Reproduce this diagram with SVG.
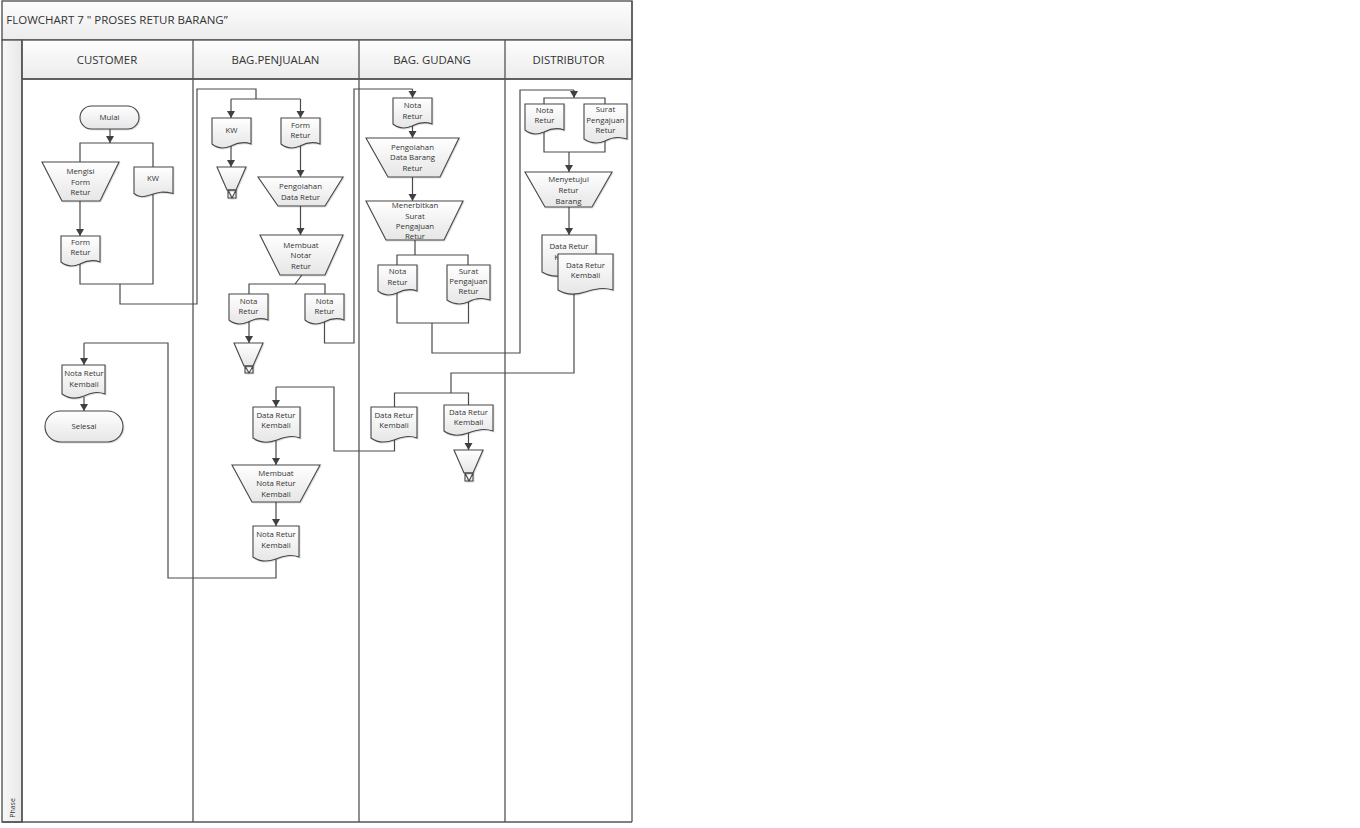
<svg xmlns="http://www.w3.org/2000/svg" width="1360" height="828" viewBox="0 0 1360 828">
<style>
text{font-family:"Open Sans","Noto Sans","DejaVu Sans",sans-serif;fill:#333;text-anchor:middle;dominant-baseline:central}
.t{font-size:7.8px}
.h{font-size:11.4px}
.s{fill:url(#g);stroke:#484848;stroke-width:1.1;filter:url(#sh)}
.b{fill:url(#hd);stroke:#555;stroke-width:1.4}
.l{fill:none;stroke:#555;stroke-width:1.3}
.c{fill:none;stroke:#4a4a4a;stroke-width:1.2}
.a{marker-end:url(#ar)}
</style>
<defs>
<linearGradient id="g" x1="0" y1="0" x2="0" y2="1"><stop offset="0" stop-color="#fff"/><stop offset="1" stop-color="#e6e6e6"/></linearGradient>
<linearGradient id="hd" x1="0" y1="0" x2="0" y2="1"><stop offset="0" stop-color="#fdfdfd"/><stop offset="1" stop-color="#ececec"/></linearGradient>
<linearGradient id="st" x1="0" y1="0" x2="1" y2="0"><stop offset="0" stop-color="#f8f8f8"/><stop offset="1" stop-color="#e8e8e8"/></linearGradient>
<filter id="sh" x="-10%" y="-10%" width="125%" height="125%"><feDropShadow dx="0.7" dy="0.7" stdDeviation="0.5" flood-color="#000" flood-opacity="0.18"/></filter>
<marker id="ar" markerUnits="userSpaceOnUse" markerWidth="9" markerHeight="9" refX="7" refY="4" orient="auto"><path d="M0 0L7 4L0 8z" fill="#404040"/></marker>
</defs>
<rect width="1360" height="828" fill="#fff"/>
<g id="frame">
<rect x="2" y="1" width="630" height="821" fill="#fff"/>
<rect class="b" x="2" y="1" width="630" height="39"/>
<rect x="2" y="40" width="20" height="782" fill="url(#st)" stroke="#555" stroke-width="1.4"/>
<rect class="b" x="22" y="40" width="610" height="39"/>
<path class="l" d="M22 40V822M193 40V822M359 40V822M505 40V822M632 1V822M2 822H632M22 79H632"/>
<text x="117" y="19.500" class="h" style="font-size:11.500px">FLOWCHART 7 " PROSES RETUR BARANG”</text>
<text x="107" y="59" class="h">CUSTOMER</text>
<text x="275.500" y="59" class="h">BAG.PENJUALAN</text>
<text x="432" y="59" class="h">BAG. GUDANG</text>
<text x="568.500" y="59" class="h">DISTRIBUTOR</text>
<text transform="translate(12 808) rotate(-90)" style="font-size:7px">Phase</text>
</g>
<g id="connectors">
<path class="c a" d="M110 129V143"/>
<path class="c" d="M80 162V143H153V167"/>
<path class="c a" d="M80 201V236"/>
<path class="c" d="M80 260V284H153V192"/>
<path class="c" d="M120 284V304H197V89H256V99"/>
<path class="c a" d="M231 99V118"/>
<path class="c a" d="M300.500 99V118"/>
<path class="c" d="M231 99H300.500"/>
<path class="c a" d="M231 145V167"/>
<path class="c a" d="M300.500 145V177"/>
<path class="c a" d="M300.500 206V235"/>
<path class="c" d="M302 275L295 284M249 294V284H325V294"/>
<path class="c a" d="M249 320V343"/>
<path class="c" d="M324.500 320V343H354V89H412.500"/>
<path class="c a" d="M412.500 89V98"/>
<path class="c a" d="M412.500 125V138"/>
<path class="c a" d="M412.500 177V201"/>
<path class="c" d="M415 240V255M397 265V255H468V265"/>
<path class="c" d="M397 290V323H468.500V300"/>
<path class="c" d="M432 323V353H520V90H574"/>
<path class="c a" d="M574 90V98"/>
<path class="c" d="M544 104V98H605V104"/>
<path class="c" d="M544 130V152H605V138"/>
<path class="c a" d="M569 152V172"/>
<path class="c a" d="M569 207V235"/>
<path class="c" d="M574 292V373H451V393M394.500 407V393H468.500V405"/>
<path class="c" d="M394.500 438V451H334V387H276"/>
<path class="c a" d="M276 387V407"/>
<path class="c a" d="M276 438V465"/>
<path class="c a" d="M276 502V526"/>
<path class="c" d="M276 558V578H168V343H84"/>
<path class="c a" d="M84 343V365"/>
<path class="c a" d="M84 397V411"/>
<path class="c a" d="M468.500 432V450"/>
</g>
<g id="mulai"><rect class="s" x="80" y="106" width="59" height="23" rx="11.500"/><text class="t" x="109.500" y="117">Mulai</text></g>
<g id="mengisi"><path class="s" d="M42 162H119L100 201H62z"/><text class="t" x="80.500" y="171">Mengisi</text><text class="t" x="80.500" y="182">Form</text><text class="t" x="80.500" y="192">Retur</text></g>
<g id="kw1"><path class="s" d="M134 167H173V193.500C163 191 158 192 150 195C144 197 139 198 134 193.500z"/><text class="t" x="153" y="178">KW</text></g>
<g id="form1"><path class="s" d="M61 236H100V262C92 259 86 261 80 264C73 267 67 267 61 262z"/><text class="t" x="80.500" y="241.500">Form</text><text class="t" x="80.500" y="252">Retur</text></g>
<g id="kw2"><path class="s" d="M212 118H251V144C243 141 237 143 231 146C224 149 218 149 212 144z"/><text class="t" x="231.500" y="130">KW</text></g>
<g id="form2"><path class="s" d="M281 118H320V144C312 141 306 143 300 146C293 149 287 149 281 144z"/><text class="t" x="300.500" y="124.500">Form</text><text class="t" x="300.500" y="135">Retur</text></g>
<g id="merge1"><path class="s" d="M217 167H246L236 190H227z"/><path class="s" d="M228 190H236V198H228zM228 190L232 198L236 190"/></g>
<g id="pengolahan1"><path class="s" d="M258 177H343L325 206H278z"/><text class="t" x="300.500" y="186">Pengolahan</text><text class="t" x="300.500" y="196.500">Data Retur</text></g>
<g id="membuat1"><path class="s" d="M260 235H343L325 275H280z"/><text class="t" x="301" y="244.500">Membuat</text><text class="t" x="301" y="255">Notar</text><text class="t" x="301" y="265.500">Retur</text></g>
<g id="nota1"><path class="s" d="M229 294H268V320C260 317 254 319 248 322C241 325 235 325 229 320z"/><text class="t" x="248.500" y="300.500">Nota</text><text class="t" x="248.500" y="311">Retur</text></g>
<g id="nota2"><path class="s" d="M305 294H344V320C336 317 330 319 324 322C317 325 311 325 305 320z"/><text class="t" x="324.500" y="300.500">Nota</text><text class="t" x="324.500" y="311">Retur</text></g>
<g id="merge2"><path class="s" d="M234 343H263L253 366H244z"/><path class="s" d="M245 366H253V373H245zM245 366L249 373L253 366"/></g>
<g id="nota3"><path class="s" d="M393 98H432V124C424 121 418 123 412 126C405 129 399 129 393 124z"/><text class="t" x="412.500" y="105">Nota</text><text class="t" x="412.500" y="115.500">Retur</text></g>
<g id="pengolahan2"><path class="s" d="M366 138H459L440 177H388z"/><text class="t" x="412.500" y="147">Pengolahan</text><text class="t" x="412.500" y="157">Data Barang</text><text class="t" x="412.500" y="167.500">Retur</text></g>
<g id="menerbitkan"><path class="s" d="M366 201H463L444 240H386z"/><text class="t" x="415" y="205">Menerbitkan</text><text class="t" x="415" y="216">Surat</text><text class="t" x="415" y="226">Pengajuan</text><text class="t" x="415" y="236">Retur</text></g>
<g id="nota4"><path class="s" d="M378 265H417V291C409 288 403 290 397 293C390 296 384 296 378 291z"/><text class="t" x="397.500" y="271">Nota</text><text class="t" x="397.500" y="281.500">Retur</text></g>
<g id="surat1"><path class="s" d="M447 265H490V300C481 297 475 298 468 302C461 305 453 304 447 300z"/><text class="t" x="468.500" y="270.500">Surat</text><text class="t" x="468.500" y="281">Pengajuan</text><text class="t" x="468.500" y="291">Retur</text></g>
<g id="nota5"><path class="s" d="M525 104H564V130C556 127 550 129 544 132C537 135 531 135 525 130z"/><text class="t" x="544.500" y="110">Nota</text><text class="t" x="544.500" y="120">Retur</text></g>
<g id="surat2"><path class="s" d="M584 104H627V139C618 136 612 137 605 141C598 144 590 143 584 139z"/><text class="t" x="605.500" y="109">Surat</text><text class="t" x="605.500" y="119.500">Pengajuan</text><text class="t" x="605.500" y="130">Retur</text></g>
<g id="menyetujui"><path class="s" d="M525 172H612L592 207H545z"/><text class="t" x="568.500" y="179">Menyetujui</text><text class="t" x="568.500" y="190">Retur</text><text class="t" x="568.500" y="201">Barang</text></g>
<g id="data1"><path class="s" d="M542 235H596V272C586 269 578 271 569 274C560 277 550 277 542 272z"/><text class="t" x="569" y="246">Data Retur</text><text class="t" x="569" y="256.500">Kembali</text></g>
<g id="data2"><path class="s" d="M558 254H613V290C603 287 595 289 585 292C576 295 566 295 558 290z"/><text class="t" x="585.500" y="265">Data Retur</text><text class="t" x="585.500" y="275">Kembali</text></g>
<g id="data3"><path class="s" d="M371 407H417V438C409 435 402 437 394 440C386 443 378 443 371 438z"/><text class="t" x="394" y="415">Data Retur</text><text class="t" x="394" y="425">Kembali</text></g>
<g id="data4"><path class="s" d="M444 405H493V431C484 428 477 430 468 433C460 436 451 436 444 431z"/><text class="t" x="468.500" y="412">Data Retur</text><text class="t" x="468.500" y="422">Kembali</text></g>
<g id="merge3"><path class="s" d="M454 450H483L473 473H464z"/><path class="s" d="M465 473H473V481H465zM465 473L469 481L473 473"/></g>
<g id="data5"><path class="s" d="M253 407H300V438C292 435 285 437 277 440C269 443 260 443 253 438z"/><text class="t" x="276" y="415">Data Retur</text><text class="t" x="276" y="425">Kembali</text></g>
<g id="membuat2"><path class="s" d="M232 465H320L300 502H252z"/><text class="t" x="276" y="473">Membuat</text><text class="t" x="276" y="483">Nota Retur</text><text class="t" x="276" y="494">Kembali</text></g>
<g id="nota6"><path class="s" d="M253 526H299V557C291 554 284 556 276 559C268 562 260 562 253 557z"/><text class="t" x="276" y="534">Nota Retur</text><text class="t" x="276" y="545">Kembali</text></g>
<g id="nota7"><path class="s" d="M62 365H105V394C97 391 91 393 84 396C77 399 69 399 62 394z"/><text class="t" x="84" y="373">Nota Retur</text><text class="t" x="84" y="384">Kembali</text></g>
<g id="selesai"><rect class="s" x="45" y="411" width="78" height="31" rx="15.500"/><text class="t" x="84" y="426">Selesai</text></g>
</svg>
